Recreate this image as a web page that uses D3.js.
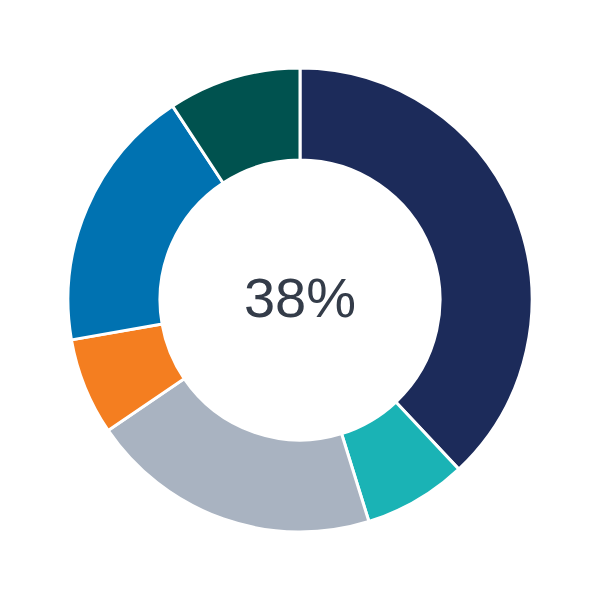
<!DOCTYPE html>
<html><head><meta charset="utf-8">
<script src="https://cdn.jsdelivr.net/npm/d3@7"></script>
<style>html,body{margin:0;padding:0;background:#fff;}</style>
</head><body>
<svg id="c" width="600" height="600"></svg>
<script>
const categories = ["A","B","C","D","E","F"];
const values = [38, 7.2, 20.3, 6.75, 18.5, 9.25];
const colors = ["#1c2b5a", "#1ab3b5", "#a9b3c1", "#f47e20", "#0072b1", "#00524f"];
const centerLabel = "38%";

const svg = d3.select("#c");
const g = svg.append("g").attr("transform", "translate(300,300)");
const pie = d3.pie().sort(null).value(d => d.v);
const arc = d3.arc().innerRadius(140).outerRadius(232);
const data = categories.map((c, i) => ({c, v: values[i], col: colors[i]}));
g.selectAll("path").data(pie(data)).join("path")
  .attr("d", arc).attr("fill", d => d.data.col)
  .attr("stroke", "#fff").attr("stroke-width", 3);
g.append("text").attr("text-anchor", "middle").attr("y", 17)
  .attr("font-family", "Liberation Sans, Arial, sans-serif")
  .attr("font-size", 56).attr("fill", "#343c49").text(centerLabel);
</script>
</body></html>
